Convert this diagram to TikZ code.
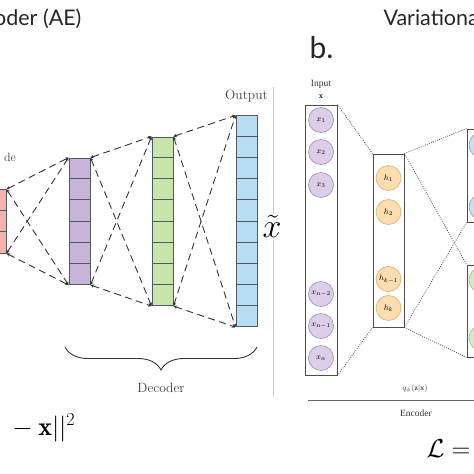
\documentclass[tikz,border=0pt]{standalone}
\usepackage{fix-cm}
\usepackage{fontspec}
\newfontfamily\titlefont{Lato}
\newfontfamily\vaefont{Liberation Serif}
\usetikzlibrary{arrows.meta,decorations.pathreplacing}

\definecolor{codecol}{HTML}{F6B3AE}
\definecolor{hidacol}{HTML}{C9B4D9}
\definecolor{hidbcol}{HTML}{C6E5AA}
\definecolor{outcol}{HTML}{B8DCF0}
\definecolor{edgegray}{HTML}{4F5B64}
\definecolor{xfill}{HTML}{DCCDE8}
\definecolor{xdraw}{HTML}{A08CB8}
\definecolor{hfill}{HTML}{FCDDB0}
\definecolor{hdraw}{HTML}{E0AE6C}
\definecolor{mufill}{HTML}{C8DDF2}
\definecolor{mudraw}{HTML}{7FA5CF}
\definecolor{sigfill}{HTML}{D5E8C8}
\definecolor{sigdraw}{HTML}{98BC88}

\tikzset{
  layer/.style={draw=edgegray, line width=0.8pt, inner sep=0pt, minimum width=21.1pt},
  cellline/.style={draw=edgegray, line width=0.8pt},
  link/.style={dash pattern=on 7pt off 4.5pt, line width=0.9pt, draw=black!80,
    {Stealth[length=3.5pt,width=3.5pt]}-{Stealth[length=3.5pt,width=3.5pt]}},
  vbox/.style={draw=black!70, line width=0.9pt, inner sep=0pt, minimum width=32pt},
  unit/.style={circle, minimum size=25pt, inner sep=0pt, line width=0.6pt,
    font=\fontsize{8}{8}\selectfont},
  wire/.style={dash pattern=on 0.9pt off 1.3pt, line width=0.7pt, draw=black!70},
  tinylabel/.style={font=\vaefont\fontsize{9.5}{9.5}\selectfont, text=black!80},
}

\begin{document}
\begin{tikzpicture}[x=1pt,y=-1pt]
\useasboundingbox (0,0) rectangle (474,474);
\clip (0,0) rectangle (474,474);

% separator
\draw[black!20, line width=0.8pt] (273,87) -- (273,397);

% a. autoencoder
\node[anchor=base east, font=\titlefont\fontsize{21.5}{21.5}\selectfont, text=black!85] (aetitle) at (85,25) {oder (AE)};

\foreach \nm/\cx/\n/\col in {code/-4.5/3/codecol, hida/79.5/6/hidacol, hidb/162.5/8/hidbcol, out/246.5/10/outcol}{
  \node[layer, fill=\col, minimum height=\n*21.1pt] (\nm) at (\cx,221.3) {};
  \pgfmathtruncatemacro\m{\n-1}
  \foreach \i in {1,...,\m}
    \draw[cellline] ([yshift=-\i*21.1pt]\nm.north west) -- ([yshift=-\i*21.1pt]\nm.north east);
}

\foreach \a/\b in {code/hida, hida/hidb, hidb/out}{
  \draw[link] (\a.north east) -- (\b.north west);
  \draw[link] (\a.south east) -- (\b.south west);
  \draw[link] (\a.north east) -- (\b.south west);
  \draw[link] (\a.south east) -- (\b.north west);
}

\node[anchor=base west, font=\fontsize{12}{12}\selectfont, text=black!75] (codelabel) at (0.5,161) {de};
\node[anchor=base, font=\fontsize{13.5}{13.5}\selectfont, text=black!75] (outlabel) at (246.5,99) {Output};
\node[anchor=base, fill=white, inner sep=1pt, font=\fontsize{34}{34}\selectfont] (xtilde) at (272,237) {$\tilde{x}$};

\coordinate (bl) at (65,347);
\coordinate (br) at (257,347);
\draw[decorate, decoration={brace, mirror, amplitude=23pt}, line width=0.9pt, draw=black!80] (bl) -- (br);
\node[font=\fontsize{13.5}{13.5}\selectfont, text=black!75] (declabel) at (161,388) {Decoder};

\node[anchor=base west, font=\fontsize{26}{26}\selectfont] (aeloss) at (3,435) {$\mathord{}-\mathbf{x}||^2$};

% b. variational autoencoder
\node[anchor=base west, font=\titlefont\fontsize{21.5}{21.5}\selectfont, text=black!85] (vaetitle) at (380,25) {Variationa};
\node[anchor=base west, font=\titlefont\fontsize{30}{30}\selectfont, text=black!85] (blabel) at (306,58) {b.};

\node[vbox, minimum height=270pt] (inbox) at (321,240) {};
\node[vbox, minimum width=31pt, minimum height=173pt] (hidbox) at (388.5,240.5) {};
\node[vbox, minimum height=93pt] (mubox) at (483,175.5) {};
\node[vbox, minimum height=92pt] (sigbox) at (483,311) {};

\foreach \nm/\y/\lab in {x1/120/x_1, x2/152/x_2, x3/185/x_3, xa/294/x_{n-2}, xb/326/x_{n-1}, xc/358/x_n}
  \node[unit, fill=xfill, draw=xdraw] (\nm) at (321,\y) {$\lab$};
\foreach \nm/\y/\lab in {h1/178/h_1, h2/212/h_2, ha/279/h_{k-1}, hb/308/h_k}
  \node[unit, fill=hfill, draw=hdraw] (\nm) at (388.5,\y) {$\lab$};
\foreach \nm/\y in {mu1/145, mu2/207}
  \node[unit, fill=mufill, draw=mudraw] (\nm) at (481.5,\y) {};
\foreach \nm/\y in {sig1/280, sig2/338}
  \node[unit, fill=sigfill, draw=sigdraw] (\nm) at (481.5,\y) {};

\draw[wire] (inbox.north east) -- (hidbox.north west);
\draw[wire] (inbox.south east) -- (hidbox.south west);
\draw[wire] (hidbox.north east) -- (mubox.north west);
\draw[wire] (hidbox.north east) -- (sigbox.north west);
\draw[wire] (hidbox.south east) -- (mubox.south west);
\draw[wire] (hidbox.south east) -- (sigbox.south west);

\node[tinylabel] (inlabel) at (321,84) {Input};
\node[font=\fontsize{8}{8}\selectfont] (inx) at (321,97) {$\mathbf{x}$};
\node[font=\fontsize{7.5}{7.5}\selectfont, text=black!80] (qlabel) at (415,389) {$q_\phi(\mathbf{z}|\mathbf{x})$};
\draw[black!60, line width=1pt] (308,400) -- (474,400);
\node[tinylabel] (enclabel) at (416,413) {Encoder};

\node[anchor=base west, font=\fontsize{26}{26}\selectfont] (vaeloss) at (423,457) {$\mathcal{L} =$};
\end{tikzpicture}
\end{document}
